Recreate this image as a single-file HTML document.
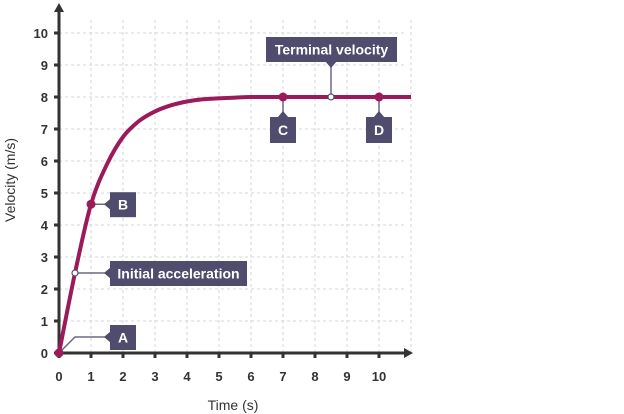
<!DOCTYPE html>
<html><head><meta charset="utf-8"><style>
body{margin:0;background:#fff}
svg{font-family:"Liberation Sans",sans-serif;display:block}
</style></head><body>
<svg id="c" width="624" height="414"></svg>
<script>
const times=[0,0.5,1,1.5,2,2.5,3,3.5,4,4.5,5,5.5,6,7,8,8.5,9,10,11];
const velocities=[0,2.5,4.65,5.9,6.75,7.25,7.55,7.74,7.86,7.93,7.96,7.98,8,8,8,8,8,8,8];
const xTicks=[0,1,2,3,4,5,6,7,8,9,10];
const yTicks=[0,1,2,3,4,5,6,7,8,9,10];
const markers=[{t:1,v:4.65,label:"B"},{t:7,v:8,label:"C"},{t:10,v:8,label:"D"}];
const NS="http://www.w3.org/2000/svg";
const svg=document.getElementById('c');
const X=t=>59+t*32, Y=v=>353-v*32;
function mk(tag,a,p){const e=document.createElementNS(NS,tag);for(const k in a)e.setAttribute(k,a[k]);(p||svg).appendChild(e);return e;}
// grid
for(let i=1;i<=11;i++){const l=mk('line',{x1:X(i),x2:X(i),y1:Y(0),y2:18,stroke:'#d6d3de','stroke-dasharray':'3,3'});

}
for(let i=1;i<=10;i++){const l=mk('line',{x1:X(0),x2:405,y1:Y(i),y2:Y(i),stroke:'#d6d3de','stroke-dasharray':'3,3'});

}
// axes
let ax=mk('path',{d:`M${X(0)},${Y(0)}H408M${X(0)},${Y(0)}V10`,stroke:'#333',fill:'none','stroke-width':3});


mk('path',{d:'M404,348L413,353L404,358Z',fill:'#333'});
mk('path',{d:`M54,12L59,3L64,12Z`,fill:'#333'});
xTicks.forEach(t=>{mk('line',{x1:X(t),x2:X(t),y1:Y(0),y2:Y(0)+5,stroke:'#333','stroke-width':3});
const tx=mk('text',{x:X(t),y:381,'text-anchor':'middle','font-size':13,'font-weight':'bold',fill:'#333'});tx.textContent=t;

});
yTicks.forEach(v=>{mk('line',{x1:X(0)-5,x2:X(0),y1:Y(v),y2:Y(v),stroke:'#333','stroke-width':3});
const tx=mk('text',{x:48,y:Y(v)+5,'text-anchor':'end','font-size':13,'font-weight':'bold',fill:'#333'});tx.textContent=v;

});
let xt=mk('text',{x:233,y:410,'text-anchor':'middle','font-size':14,fill:'#333'});xt.textContent='Time (s)';


let yt=mk('text',{x:15,y:180,'text-anchor':'middle','font-size':14,fill:'#333',transform:'rotate(-90 15 180)'});yt.textContent='Velocity (m/s)';


// curve (Catmull-Rom)
const P=times.map((t,i)=>[X(t),Y(velocities[i])]);
let d=`M${P[0][0]},${P[0][1]}`;
for(let i=0;i<P.length-1;i++){const p0=P[i-1]||P[i],p1=P[i],p2=P[i+1],p3=P[i+2]||p2;
d+=`C${p1[0]+(p2[0]-p0[0])/6},${p1[1]+(p2[1]-p0[1])/6} ${p2[0]-(p3[0]-p1[0])/6},${p2[1]-(p3[1]-p1[1])/6} ${p2[0]},${p2[1]}`;}
const cv=mk('path',{d:d,stroke:'#9b1b5a','stroke-width':4,fill:'none'});


function box(x,y,w,h,txt,name){const g=mk('g',{});


mk('rect',{x:x,y:y,width:w,height:h,fill:'#4f4c6d'},g);
const t=mk('text',{x:x+w/2,y:y+h/2+5,'text-anchor':'middle','font-size':14,'font-weight':'bold',fill:'#fff'},g);t.textContent=txt;return g;}
const lc='#6b6882';
// A
mk('path',{d:`M${X(0)},${Y(0)}L75,337H110`,stroke:lc,fill:'none','stroke-width':1.5});
mk('path',{d:'M104,337L111,331V343Z',fill:'#4f4c6d'});
box(110,325,26,25,'A','label-a');
// initial acceleration
mk('path',{d:`M${X(0.5)},${Y(2.5)}H110`,stroke:lc,'stroke-width':1.5});
mk('path',{d:'M104,273L111,267V279Z',fill:'#4f4c6d'});
box(110,261,137,25,'Initial acceleration','label-initial-acceleration');
mk('circle',{cx:X(0.5),cy:Y(2.5),r:3,fill:'#fff',stroke:'#4f4c6d','stroke-width':1.2});
// terminal velocity
mk('path',{d:`M${X(8.5)},${Y(8)}V62`,stroke:lc,'stroke-width':1.5});
mk('path',{d:'M325,61L331,68L337,61Z',fill:'#4f4c6d'});
box(266,37,131,25,'Terminal velocity','label-terminal-velocity');
mk('circle',{cx:X(8.5),cy:Y(8),r:3,fill:'#fff',stroke:'#4f4c6d','stroke-width':1.2});
// markers
markers.forEach(m=>{const cx=X(m.t),cy=Y(m.v);
if(m.label==='B'){mk('path',{d:`M${cx},${cy}H110`,stroke:lc,'stroke-width':1.5});mk('path',{d:`M104,${cy}L111,${cy-6}V${cy+6}Z`,fill:'#4f4c6d'});box(110,cy-12,26,25,'B','label-b');}
else{mk('path',{d:`M${cx},${cy}V118`,stroke:lc,'stroke-width':1.5});mk('path',{d:`M${cx-6},118L${cx},111L${cx+6},118Z`,fill:'#4f4c6d'});box(cx-13,117,26,26,m.label,'label-'+m.label.toLowerCase());}
const c=mk('circle',{cx:cx,cy:cy,r:4.5,fill:'#9b1b5a'});

});
mk('circle',{cx:X(0),cy:Y(0),r:4.5,fill:'#9b1b5a'});
</script>
</body></html>
